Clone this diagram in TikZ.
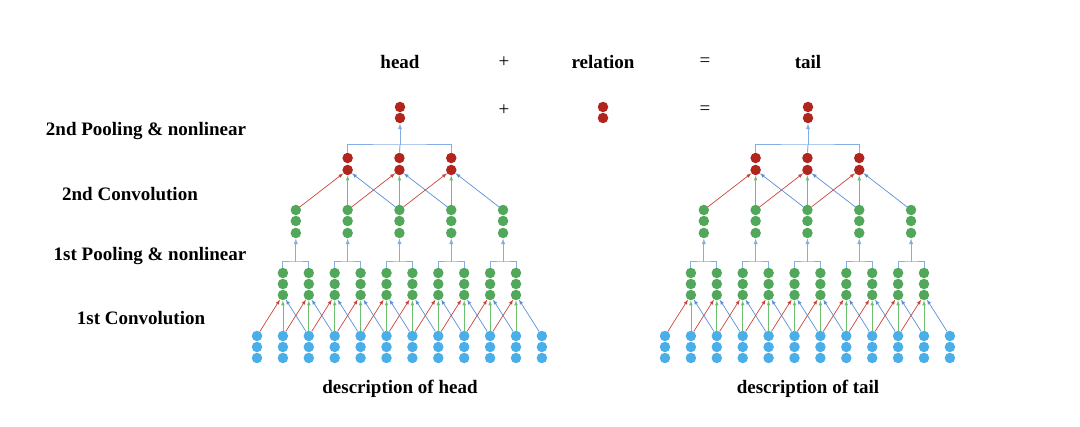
\documentclass[tikz,border=0pt]{standalone}
\usepackage{fontspec}
\setmainfont{Liberation Serif}
\begin{document}
\definecolor{cr}{HTML}{B0261F}
\definecolor{cg}{HTML}{52A85A}
\definecolor{cb}{HTML}{4AAEE8}
\definecolor{ar}{HTML}{C9443A}
\definecolor{ag}{HTML}{6CC070}
\definecolor{ab}{HTML}{5B8FD6}
\definecolor{bk}{HTML}{86AEE6}
\newcommand\mytree[2]{%
 \foreach \i in {0,...,11}{\foreach \k/\y in {1/336,2/347,3/358}{\node[bdot] (#1b\i-\k) at (#2+257+25.9*\i,\y){};}}
 \foreach \i in {1,...,10}{\foreach \k/\y in {1/273,2/284,3/295}{\node[gdot] (#1c\i-\k) at (#2+257+25.9*\i,\y){};}}
 \foreach \j in {1,...,5}{\foreach \k/\y in {1/210,2/221,3/233}{\node[gdot] (#1p\j-\k) at (#2+257+25.9*2*\j-25.9*0.5,\y){};}}
 \foreach \m in {1,2,3}{\foreach \k/\y in {1/158,2/170}{\node[rdot] (#1q\m-\k) at (#2+257+25.9*2*\m+25.9*1.5,\y){};}}
 \node[rdot] (#1t-1) at (#2+400,107){};
 \node[rdot] (#1t-2) at (#2+400,118){};
 \foreach \i in {1,...,10}{
   \pgfmathtruncatemacro\a{\i-1}\pgfmathtruncatemacro\b{\i+1}
   \draw[ar] (#1b\a-1) -- (#1c\i-3);
   \draw[ag] (#1b\i-1) -- (#1c\i-3);
   \draw[ab] (#1b\b-1) -- (#1c\i-3);}
 \foreach \j in {1,...,5}{
   \pgfmathtruncatemacro\a{2*\j-1}\pgfmathtruncatemacro\b{2*\j}
   \coordinate (#1k\j) at (#2+257+25.9*2*\j-25.9*0.5,262);
   \draw[br] (#1c\a-1.north) |- (#1k\j) -| (#1c\b-1.north);
   \draw[br,-latex] (#1k\j) -- (#1p\j-3);}
 \foreach \m in {1,2,3}{
   \pgfmathtruncatemacro\a{\m+1}\pgfmathtruncatemacro\b{\m+2}
   \draw[ar] (#1p\m-1) -- (#1q\m-2);
   \draw[ag] (#1p\a-1) -- (#1q\m-2);
   \draw[ab] (#1p\b-1) -- (#1q\m-2);}
 \coordinate (#1k) at (#2+400,145);
 \draw[br] (#1q1-1.north) |- (#1k) -| (#1q3-1.north);
 \draw[br] (#1q2-1.north) -- (#1k);
 \draw[br,-latex] (#1k) -- (#1t-2);
}
\begin{tikzpicture}[x=1pt,y=-1pt,
 dot/.style={circle,inner sep=0pt,minimum size=10.5pt},
 bdot/.style={dot,fill=cb},gdot/.style={dot,fill=cg},rdot/.style={dot,fill=cr},
 ar/.style={draw=ar,line width=0.7pt,-latex},
 ag/.style={draw=ag,line width=0.7pt,-latex},
 ab/.style={draw=ab,line width=0.7pt,-latex},
 br/.style={draw=bk,line width=1pt},
 lab/.style={font=\fontsize{19}{22}\selectfont\bfseries},
 op/.style={font=\fontsize{19}{22}\selectfont}]
\useasboundingbox (0,0) rectangle (1080,427);
\mytree{L}{0}
\mytree{R}{408}
\node[lab] (h) at (400,62) {head};
\node[op] (p1) at (504,62) {+};
\node[lab] (rl) at (603,62) {relation};
\node[op] (e1) at (705,62) {=};
\node[lab] (tl) at (808,62) {tail};
\node[op] (p2) at (504,110) {+};
\node[rdot] (m1) at (603,107){};
\node[rdot] (m2) at (603,118){};
\node[op] (e2) at (705,110) {=};
\node[lab] (l1) at (146,131) {2nd Pooling \& nonlinear};
\node[lab] (l2) at (130,194) {2nd Convolution};
\node[lab] (l3) at (150,256) {1st Pooling \& nonlinear};
\node[lab] (l4) at (141,318) {1st Convolution};
\node[lab] (d1) at (400,389) {description of head};
\node[lab] (d2) at (808,389) {description of tail};
\end{tikzpicture}
\end{document}
